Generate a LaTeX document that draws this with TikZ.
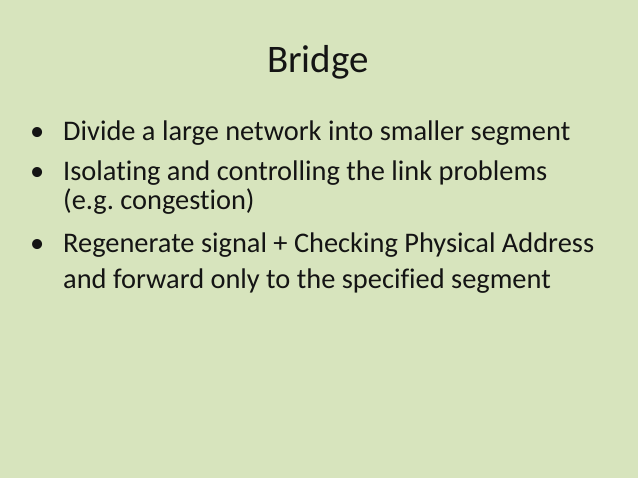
\documentclass[tikz,border=0pt]{standalone}
\usepackage{fontspec}
\setmainfont[Ligatures={NoCommon}]{Carlito}
\frenchspacing
\definecolor{bg}{RGB}{215,228,189}
\definecolor{txt}{RGB}{20,20,20}
\begin{document}
\begin{tikzpicture}[x=1pt,y=-1pt,
  line/.style={anchor=base west,inner sep=0pt,font=\fontsize{28.4}{32}\selectfont,text=txt},
  bul/.style={anchor=base west,inner sep=0pt,font=\fontsize{28.4}{32}\selectfont,text=txt}]
\fill[bg] (0,0) rectangle (638,478);
\useasboundingbox (0,0) rectangle (638,478);
\node[anchor=base,inner sep=0pt,font=\fontsize{39}{44}\selectfont,text=txt] (title) at (318,73) {Bridge};
\node[bul] (b1) at (30,141) {•};
\node[line] (l1) at (63,141) {Divide a large network into smaller segment};
\node[bul] (b2) at (30,181) {•};
\node[line] (l2) at (63,181) {Isolating and controlling the link problems};
\node[line] (l3) at (63,210) {(e.g. congestion)};
\node[bul] (b3) at (30,253) {•};
\node[line] (l4) at (63,253) {Regenerate signal + Checking Physical Address};
\node[line] (l5) at (63,289) {and forward only to the specified segment};
\end{tikzpicture}
\end{document}
